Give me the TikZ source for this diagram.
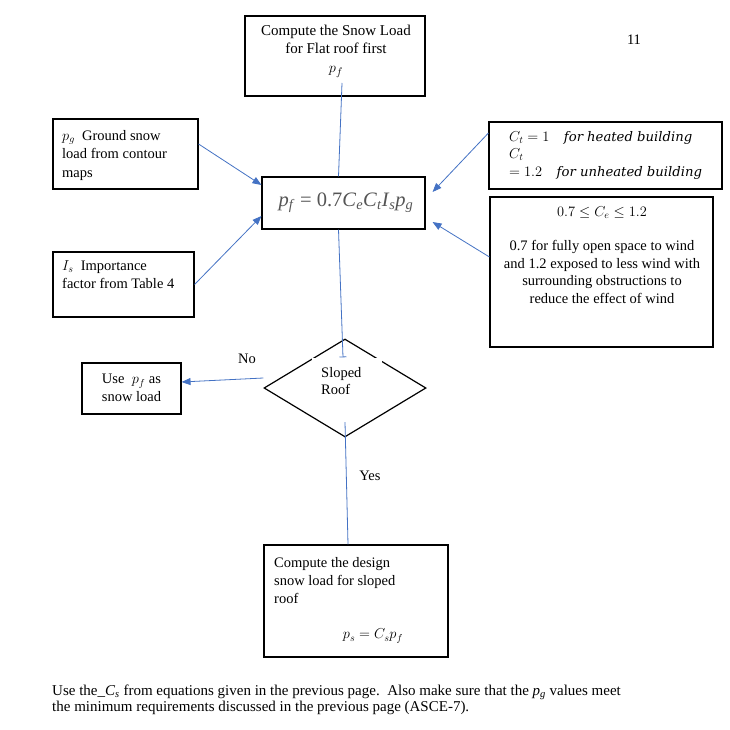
\documentclass[tikz,border=0pt]{standalone}
\usepackage{fontspec}
\setmainfont{Liberation Serif}
\newfontfamily\ctfont{DejaVu Serif}
\newcommand\ctitfont{\ctfont\itshape\fontsize{13.2}{17.5}\selectfont}
\usetikzlibrary{arrows.meta,shapes.geometric}
\definecolor{arrowblue}{HTML}{4472C4}
\definecolor{formulagray}{HTML}{555555}
\begin{document}
\begin{tikzpicture}[x=1pt,y=-1pt,
  box/.style={draw=black,line width=1.1pt,inner sep=0pt},
  conn/.style={draw=arrowblue,line width=0.8pt},
  arr/.style={conn,-{Triangle[length=9pt,width=7pt]}},
  txt/.style={inner sep=0pt,font=\fontsize{14.5}{17.5}\selectfont},
  bigtxt/.style={inner sep=0pt,font=\fontsize{15}{17.5}\selectfont},
]
\fill[white] (0,0) rectangle (730,730);
\useasboundingbox (0,0) rectangle (730,730);

% boxes
\node[box,minimum width=180pt,minimum height=80pt] (top) at (335,56) {};
\node[box,minimum width=163pt,minimum height=52pt] (formula) at (343.5,203) {};
\node[box,minimum width=145pt,minimum height=70pt] (pg) at (125.5,154) {};
\node[box,minimum width=141pt,minimum height=65pt] (is) at (123.5,284.5) {};
\node[box,minimum width=233pt,minimum height=67pt] (ct) at (605.5,155.5) {};
\node[box,minimum width=223pt,minimum height=150pt] (ce) at (601.5,272) {};
\node[box,minimum width=99pt,minimum height=51pt] (usepf) at (131.5,388.5) {};
\node[box,minimum width=184pt,minimum height=112pt] (bot) at (356,601) {};
\node[draw=black,line width=1.2pt,diamond,aspect=1.65,inner sep=0pt,
      minimum width=162pt,minimum height=98pt] (dia) at (345,388) {};
\node[fill=white,inner sep=0pt,minimum width=70pt,minimum height=53pt] (srbox) at (346.5,384) {};

% texts
\node[bigtxt,align=center,anchor=north] (toptxt) at (336,25) {Compute the Snow Load\\for Flat roof first\\[2pt]$p_f$};
\node[inner sep=0pt,text=formulagray,font=\fontsize{20.5}{24}\selectfont] (ftxt) at (346,203)
  {\textit{p}\textsubscript{\textit{f}} = 0.7\textit{C}\textsubscript{\textit{e}}\textit{C}\textsubscript{\textit{t}}\textit{I}\textsubscript{\textit{s}}\textit{p}\textsubscript{\textit{g}}};
\node[txt,align=left,anchor=north west,font=\fontsize{14.5}{18.5}\selectfont] (pgtxt) at (62,130) {$p_g$\ \ Ground snow\\load from contour\\maps};
\node[txt,align=left,anchor=north west,font=\fontsize{14.5}{18}\selectfont] (istxt) at (62,260) {$I_s$\ \ Importance\\factor from Table 4};
\node[txt,align=left,anchor=north west] (cttxt) at (509,131) {$C_t = 1$\quad{\ctitfont for heated building}\\$C_t$\\$= 1.2$\quad{\ctitfont for unheated building}};
\node[txt,align=center,anchor=north] (cetxt) at (602,206) {$0.7 \le C_e \le 1.2$\\[17pt]0.7 for fully open space to wind\\and 1.2 exposed to less wind with\\surrounding obstructions to\\reduce the effect of wind};
\node[txt,align=center] (usepftxt) at (131.5,388) {Use\ \ $p_f$ as\\snow load};
\node[txt,align=left,anchor=north west] (srtxt) at (321,367) {Sloped\\Roof};
\node[txt,align=left,anchor=north west,font=\fontsize{14.5}{18}\selectfont] (bottxt) at (274,557) {Compute the design\\snow load for sloped\\roof};
\node[txt] (botform) at (373,636) {$p_s = C_sp_f$};
\node[txt] (notxt) at (247,359) {No};
\node[txt] (yestxt) at (370,476) {Yes};
\node[txt] (pagenum) at (634,40) {11};
\node[bigtxt,align=left,anchor=north west,font=\fontsize{15}{16}\selectfont] (foot) at (52,685) {Use the\_\textit{C}\textsubscript{\textit{s}} from equations given in the previous page.\ \ Also make sure that the \textit{p}\textsubscript{\textit{g}} values meet\\the minimum requirements discussed in the previous page (ASCE-7).};

% connectors
\coordinate (topin) at (342,83);
\draw[conn] (topin) -- ([xshift=-5pt]formula.north);
\draw[conn,-{Bar[width=7pt]}] ([xshift=-5pt]formula.south) -- ([xshift=-3.5pt]srbox.north);
\draw[arr] ([yshift=10pt]pg.east) -- ([yshift=18pt]formula.west);
\draw[arr] (is.east) -- ([yshift=-13pt]formula.west);
\draw[arr] ([yshift=22.5pt]ct.west) -- ([xshift=7pt,yshift=11pt]formula.east);
\draw[arr] ([yshift=15pt]ce.west) -- ([xshift=7pt,yshift=-19pt]formula.east);
\draw[arr] ([yshift=10pt]dia.west) -- ([yshift=6.5pt]usepf.east);
\draw[conn] ([xshift=-1.5pt,yshift=-11.5pt]srbox.south) -- ([xshift=-8pt]bot.north);
\end{tikzpicture}
\end{document}
